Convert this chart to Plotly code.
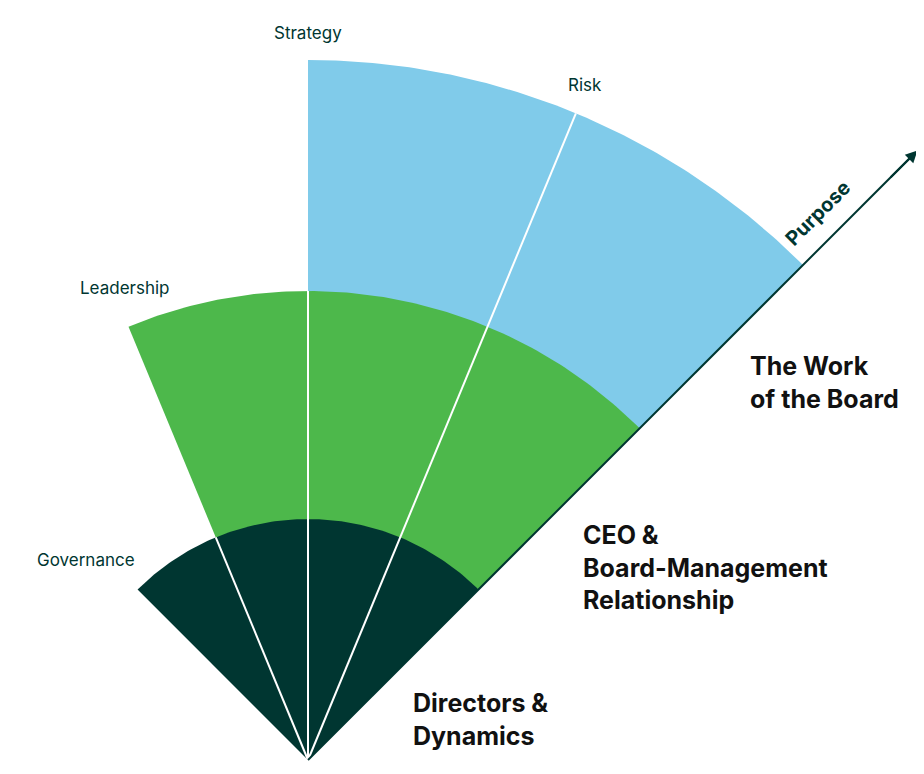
import numpy as np
import plotly.graph_objects as go

rings = ["Directors & Dynamics", "CEO & Board-Management Relationship", "The Work of the Board"]
ring_radius = [241, 469, 700]
ring_sectors = [4, 3, 2]
ring_colors = ["#003631", "#4db84b", "#80cbea"]
bounds = [45, 67.5, 90, 112.5, 135]
sector_labels = ["Risk", "Strategy", "Leadership", "Governance"]

fig = go.Figure()
# outer rings first
for i in reversed(range(len(rings))):
    r = ring_radius[i]
    a = np.radians(np.linspace(bounds[0], bounds[ring_sectors[i]], 120))
    xs = np.concatenate([[0], r*np.cos(a), [0]])
    ys = np.concatenate([[0], r*np.sin(a), [0]])
    fig.add_trace(go.Scatter(x=xs, y=ys, fill="toself", fillcolor=ring_colors[i],
                             line=dict(width=0), mode="lines", hoverinfo="skip"))
# white divider lines
for k in range(1, 4):
    rmax = max(ring_radius[i] for i in range(3) if ring_sectors[i] > k)
    t = np.radians(bounds[k])
    fig.add_trace(go.Scatter(x=[0, rmax*np.cos(t)], y=[0, rmax*np.sin(t)], mode="lines",
                             line=dict(color="white", width=2), hoverinfo="skip"))
# purpose axis
rp = 862
t = np.radians(45)
fig.add_trace(go.Scatter(x=[0, (rp-10)*np.cos(t)], y=[0, (rp-10)*np.sin(t)], mode="lines",
                         line=dict(color="#003631", width=2), hoverinfo="skip"))
fig.add_annotation(x=rp*np.cos(t), y=rp*np.sin(t), ax=(rp-40)*np.cos(t), ay=(rp-40)*np.sin(t),
                   xref="x", yref="y", axref="x", ayref="y", text="", showarrow=True,
                   arrowhead=2, arrowsize=1.2, arrowwidth=2, arrowcolor="#003631")
fig.add_annotation(x=510, y=547, text="<b>Purpose</b>", showarrow=False, textangle=-45,
                   font=dict(size=20, color="#003631", family="Inter"))

# sector labels
lab_pos = [(277, 675), (0, 727), (-183, 472), (-222, 200)]
for name, (x, y) in zip(sector_labels, lab_pos):
    fig.add_annotation(x=x, y=y, text=name, showarrow=False,
                       font=dict(size=17, color="#003631", family="Inter"))
# ring labels
ring_text = ["Directors &<br>Dynamics", "CEO &<br>Board-Management<br>Relationship", "The Work<br>of the Board"]
ring_pos = [(103, 41), (273, 193), (440, 378)]
for txt, (x, y) in zip(ring_text, ring_pos):
    fig.add_annotation(x=x, y=y, text="<b>"+txt+"</b>", showarrow=False, xanchor="left",
                       align="left", font=dict(size=25, color="#111", family="Inter"))

fig.update_layout(width=924, height=774, margin=dict(l=0, r=0, t=0, b=0),
                  plot_bgcolor="white", paper_bgcolor="white", showlegend=False,
                  xaxis=dict(range=[-300, 624], visible=False),
                  yaxis=dict(range=[-22, 752], visible=False))
fig.write_html("out.html")
